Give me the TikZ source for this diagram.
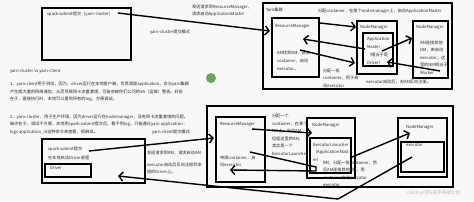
\documentclass[tikz,border=0pt]{standalone}
\usepackage{fontspec}
\setmainfont{Noto Sans CJK SC}
\usetikzlibrary{arrows.meta}
\definecolor{bg}{HTML}{F8F8F8}
\definecolor{txtc}{HTML}{2A2A2A}
\definecolor{dotc}{HTML}{62A862}
\definecolor{wmc}{HTML}{B4B4B4}
\tikzset{
  txt/.style={font=\fontsize{4.2}{7.5}\selectfont, inner sep=0pt, outer sep=0pt, text=txtc, align=left, anchor=north west},
  box/.style={draw=black, line width=1.7pt, inner sep=0pt, outer sep=0pt},
  thinbox/.style={draw=black, line width=1.2pt, inner sep=0pt, outer sep=0pt},
  conn/.style={line width=1.4pt, -{Straight Barb[length=4pt,width=9pt]}},
  plainconn/.style={line width=1.4pt},
}
\begin{document}
\begin{tikzpicture}[x=1pt,y=-1pt]
\fill[bg] (0,0) rectangle (474,201);
\useasboundingbox (0,0) rectangle (474,201);

% ---------- boxes ----------
\node[box, minimum width=89pt, minimum height=52pt] (submitc) at (86.5,34) {};
\node[thinbox, minimum width=189pt, minimum height=86pt] (yarn) at (357.5,46) {};
\node[box, minimum width=47pt, minimum height=59pt] (rmA) at (295.5,47.5) {};
\node[box, minimum width=40pt, minimum height=53pt] (nmA) at (377,47.5) {};
\node[box, minimum width=30pt, minimum height=33pt] (amA) at (378,49.5) {};
\node[box, minimum width=35pt, minimum height=57pt] (nmB) at (430.5,49.5) {};
\node[thinbox, minimum width=246pt, minimum height=81pt] (outerB) at (330,146.5) {};
\node[box, minimum width=49pt, minimum height=65pt] (rmB) at (240.5,149.5) {};
\node[box, minimum width=48pt, minimum height=60pt] (nmC) at (331,148) {};
\node[box, minimum width=41pt, minimum height=35pt] (elC) at (330.5,155.5) {};
\node[box, minimum width=49pt, minimum height=59pt] (nmD) at (422.5,147.5) {};
\node[box, minimum width=43pt, minimum height=30pt] (exeD) at (422.5,157) {};
\node[box, minimum width=103pt, minimum height=44pt] (client) at (93.5,161) {};
\node[box, minimum width=46pt, minimum height=13pt] (driver) at (68,170.5) {};
\node[circle, fill=dotc, minimum size=10pt, inner sep=0pt] (dotA) at (211,78) {};

% ---------- texts: top ----------
\node[txt] (t1) at (47,11.9) {spark-submit提交（yarn-cluster）};
\node[txt] (t2) at (150,29.9) {yarn-cluster提交模式};
\node[txt] (t3) at (192,4.9) {发送请求到ResourceManager，\\请求启动ApplicationMaster};
\node[txt] (t4) at (266,7.9) {Yarn集群};
\node[txt] (t5) at (275,24.9) {ResourceManager};
\node[txt, font=\fontsize{4.2}{8}\selectfont] (t6) at (277,50.9) {AM找到RM，请求\\container，启动\\executor。};
\node[txt] (t7) at (318,8.9) {分配container，在某个nodemanager上，启动ApplicationMaster};
\node[txt] (t8) at (360,24.9) {NodeManager};
\node[txt, font=\fontsize{4.2}{8}\selectfont] (t9) at (367,36.9) {Application\\Master\\（相当于是\\Driver）};
\node[txt] (t10) at (416,24.9) {NodeManager};
\node[txt] (t11) at (420,40.9) {AM连接其他\\NM，来启动\\executor，这\\里的NM相当于\\Worker};
\node[txt] (t12) at (323,68.9) {分配一批\\container，用于启\\动executor};
\node[txt] (t13) at (366,79.9) {executor启动后，向AM反向注册。};

% ---------- texts: middle ----------
\node[txt] (t14) at (10,68.9) {yarn-cluster vs yarn-client};
\node[txt] (t15) at (10,82.4) {1、yarn-client用于测试，因为，driver运行在本地客户端，负责调度application，会与yarn集群\\产生超大量的网络通信，从而导致网卡流量激增，可能会被你们公司的SA（运维）警告。好处\\在于，直接执行时，本地可以看到所有的log，方便调试。};
\node[txt] (t16) at (10,114.9) {2、yarn-cluster，用于生产环境，因为driver运行在nodemanager，没有网卡流量激增的问题。\\缺点在于，调试不方便，本地用spark-submit提交后，看不到log，只能通过yarn application -\\logs application\_id这种命令来查看，很麻烦。};

% ---------- texts: bottom ----------
\node[txt] (t17) at (152,129.9) {yarn-client提交模式};
\node[txt, font=\fontsize{4.2}{9}\selectfont] (t18) at (48,146.9) {spark-submit提交\\在本地启动Driver进程};
\node[txt] (t19) at (50,165.9) {Driver};
\node[txt] (t20) at (147,150.9) {发送请求到RM，请求启动AM};
\node[txt] (t21) at (147,162.9) {executor启动后反向注册到本\\地的Driver上。};
\node[txt] (t22) at (220,122.9) {ResourceManager};
\node[txt] (t23) at (220,155.9) {申请container，启\\动executor};
\node[txt, font=\fontsize{4.2}{7.6}\selectfont] (t24) at (272,113.9) {分配一个\\container，在某个\\NM上，启动AM，\\但是这里的AM，\\其实是一个\\ExecutorLauncher};
\node[txt] (t25) at (312,122.9) {NodeManager};
\node[txt] (t26) at (313,142.9) {ExecutorLanucher\\（ApplicationMast\\er）};
\node[txt] (t27) at (323,160.9) {RM，分配一批container，然\\后AM连接其他NM，用\\container启动executor\\executor};
\node[txt] (t28) at (406,124.9) {NodeManager};
\node[txt] (t29) at (406,143.9) {executor};
\node[txt, font=\fontsize{4.5}{5}\selectfont, text=wmc, anchor=west] (wm) at (407,193) {CSDN @顶尖高手养成计划};

% ---------- connector end points ----------
\coordinate (a1s) at (118,13);  \coordinate (a1e) at (270,31);
\coordinate (a2s) at (320,23);  \coordinate (a2e) at (356,27);
\coordinate (a3s) at (365,49);  \coordinate (a3e) at (303,39);
\coordinate (a4s) at (300,50);  \coordinate (a4e) at (355,63);
\coordinate (a5s) at (382,51);  \coordinate (a5e) at (412,38);
\coordinate (a6s) at (440,71);  \coordinate (a6e) at (387,62);
\coordinate (b1s) at (89,151);  \coordinate (b1e) at (214,138);
\coordinate (b2s) at (252,129); \coordinate (b2e) at (312,133);
\coordinate (b3s) at (250,152); \coordinate (b3m) at (316,167); \coordinate (b3n) at (316,171);
\coordinate (b4e) at (230,170);
\coordinate (b5s) at (352,157); \coordinate (b5e) at (410,133);
\coordinate (b6s) at (412,157); \coordinate (b6m) at (338,199); \coordinate (b6e) at (118,176);

% ---------- connectors ----------
\draw[conn] (a1s) -- (a1e);
\draw[conn] (a2s) -- (a2e);
\draw[conn] (a3s) -- (a3e);
\draw[conn] (a4s) -- (a4e);
\draw[conn] (a5s) -- (a5e);
\draw[conn] (a6s) -- (a6e);
\draw[conn] (b1s) -- (b1e);
\draw[conn] (b2s) -- (b2e);
\draw[plainconn] (b3s) -- (b3m) -- (b3n);
\draw[conn] (b3n) -- (b4e);
\draw[conn] (b5s) -- (b5e);
\draw[conn] (b6s) -- (b6m) -- (b6e);
\end{tikzpicture}
\end{document}
